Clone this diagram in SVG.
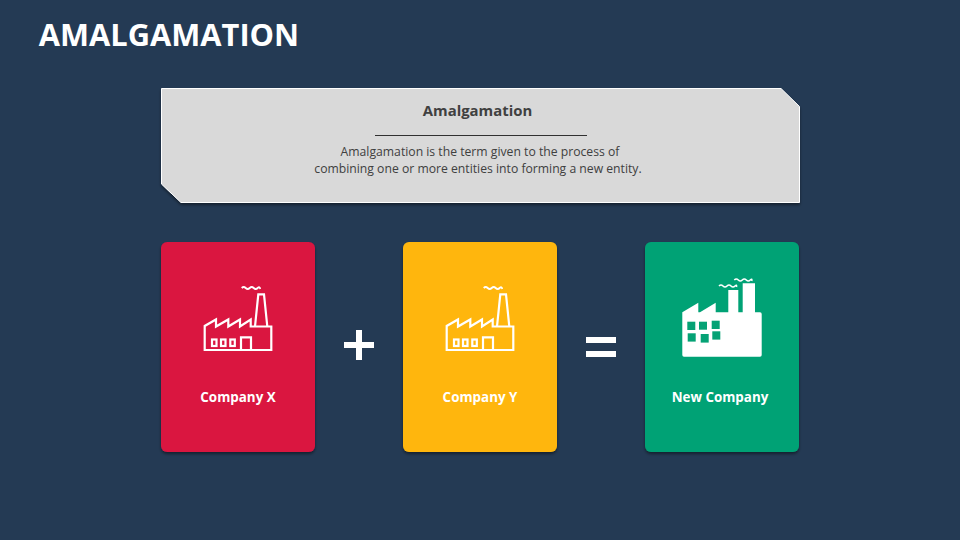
<svg xmlns="http://www.w3.org/2000/svg" width="960" height="540" viewBox="0 0 960 540">
<defs>
<filter id="sh" x="-10%" y="-10%" width="120%" height="120%"><feDropShadow dx="0" dy="2" stdDeviation="1.6" flood-color="#000" flood-opacity="0.45"/></filter>
<g id="outline" fill="none" stroke="#fff" stroke-width="2.200" stroke-linejoin="miter">
<path d="M204.700 350V326L216 319.500V326.500L228.300 319.500V326.500L240 319.500V326.500L250.700 319.500V326.500H271.300V350Z"/>
<path d="M255 326.500L258.300 294.300H264L267.300 326.500"/>
<path d="M241 350V337.300H251V350"/>
<rect x="212" y="339.500" width="4.500" height="6.500"/><rect x="221" y="339.500" width="4.500" height="6.500"/><rect x="230.300" y="339.500" width="4.500" height="6.500"/>
<path d="M241.700 288q2 -2 4 0t4 0t4 0t4 0t2.500 1" stroke-width="1.800"/>
</g>
</defs>
<style>
text{font-family:"Open Sans","Noto Sans","Liberation Sans",sans-serif;text-anchor:middle}
.lbl{font-size:13.400px;font-weight:700;fill:#fff}
.body{font-size:12.200px;fill:#404040}
.smoke{fill:none;stroke:#fff;stroke-width:1.600}
</style>
<rect width="960" height="540" fill="#243A54"/>
<text x="169" y="46" style="font-size:30.800px;font-weight:700;fill:#fff">AMALGAMATION</text>
<g id="definition">
<polygon points="161.500,88.500 781,88.500 799.500,106.500 799.500,202.500 181,202.500 161.500,184" fill="#D9D9D9" stroke="#fff" stroke-width="1" filter="url(#sh)"/>
<text x="477.500" y="116" style="font-size:14.900px;font-weight:700;fill:#404040">Amalgamation</text>
<line x1="375" y1="135.500" x2="587" y2="135.500" stroke="#303030" stroke-width="1"/>
<text class="body" x="480" y="156">Amalgamation is the term given to the process of</text>
<text class="body" x="478" y="173">combining one or more entities into forming a new entity.</text>
</g>
<g id="company-x">
<rect x="161" y="242" width="154" height="210" rx="6" fill="#DA1440" filter="url(#sh)"/>
<use href="#outline"/>
<text class="lbl" x="238" y="402">Company X</text>
</g>
<g id="plus"><path d="M344 342H374V348H344ZM356 330H362V360H356Z" fill="#fff"/></g>
<g id="company-y">
<rect x="403" y="242" width="154" height="210" rx="6" fill="#FFB60B" filter="url(#sh)"/>
<use href="#outline" x="242"/>
<text class="lbl" x="480" y="402">Company Y</text>
</g>
<g id="equals"><path d="M586 337H616V343H586ZM586 351H616V357H586Z" fill="#fff"/></g>
<g id="new-company">
<rect x="645" y="242" width="154" height="210" rx="6" fill="#05A275" filter="url(#sh)"/>
<path d="M682.300 312.300L698.300 302.700V312.300H700L715.700 302.700V312.300H728.300V290H738.300V312.300H742.700V283.300H755V312.300H760Q761.700 312.300 761.700 314V355Q761.700 356.700 760 356.700H684Q682.300 356.700 682.300 355Z" fill="#fff"/>
<g fill="#05A275">
<rect x="687.300" y="321.700" width="8" height="8.300"/><rect x="699" y="321.700" width="8" height="8"/><rect x="711.700" y="320.700" width="8" height="8.300"/>
<rect x="687.700" y="333.300" width="8" height="8.300"/><rect x="700.700" y="334" width="8" height="8.600"/><rect x="712.300" y="331.300" width="8" height="8.300"/>
</g>
<path class="smoke" d="M719 286q2 -2 4 0t4 0t4 0t4 0t1.500 1"/>
<path class="smoke" d="M734.300 280q2 -2 4 0t4 0t4 0t4 0t1.500 1"/>
<text class="lbl" x="720" y="402">New Company</text>
</g>
</svg>
